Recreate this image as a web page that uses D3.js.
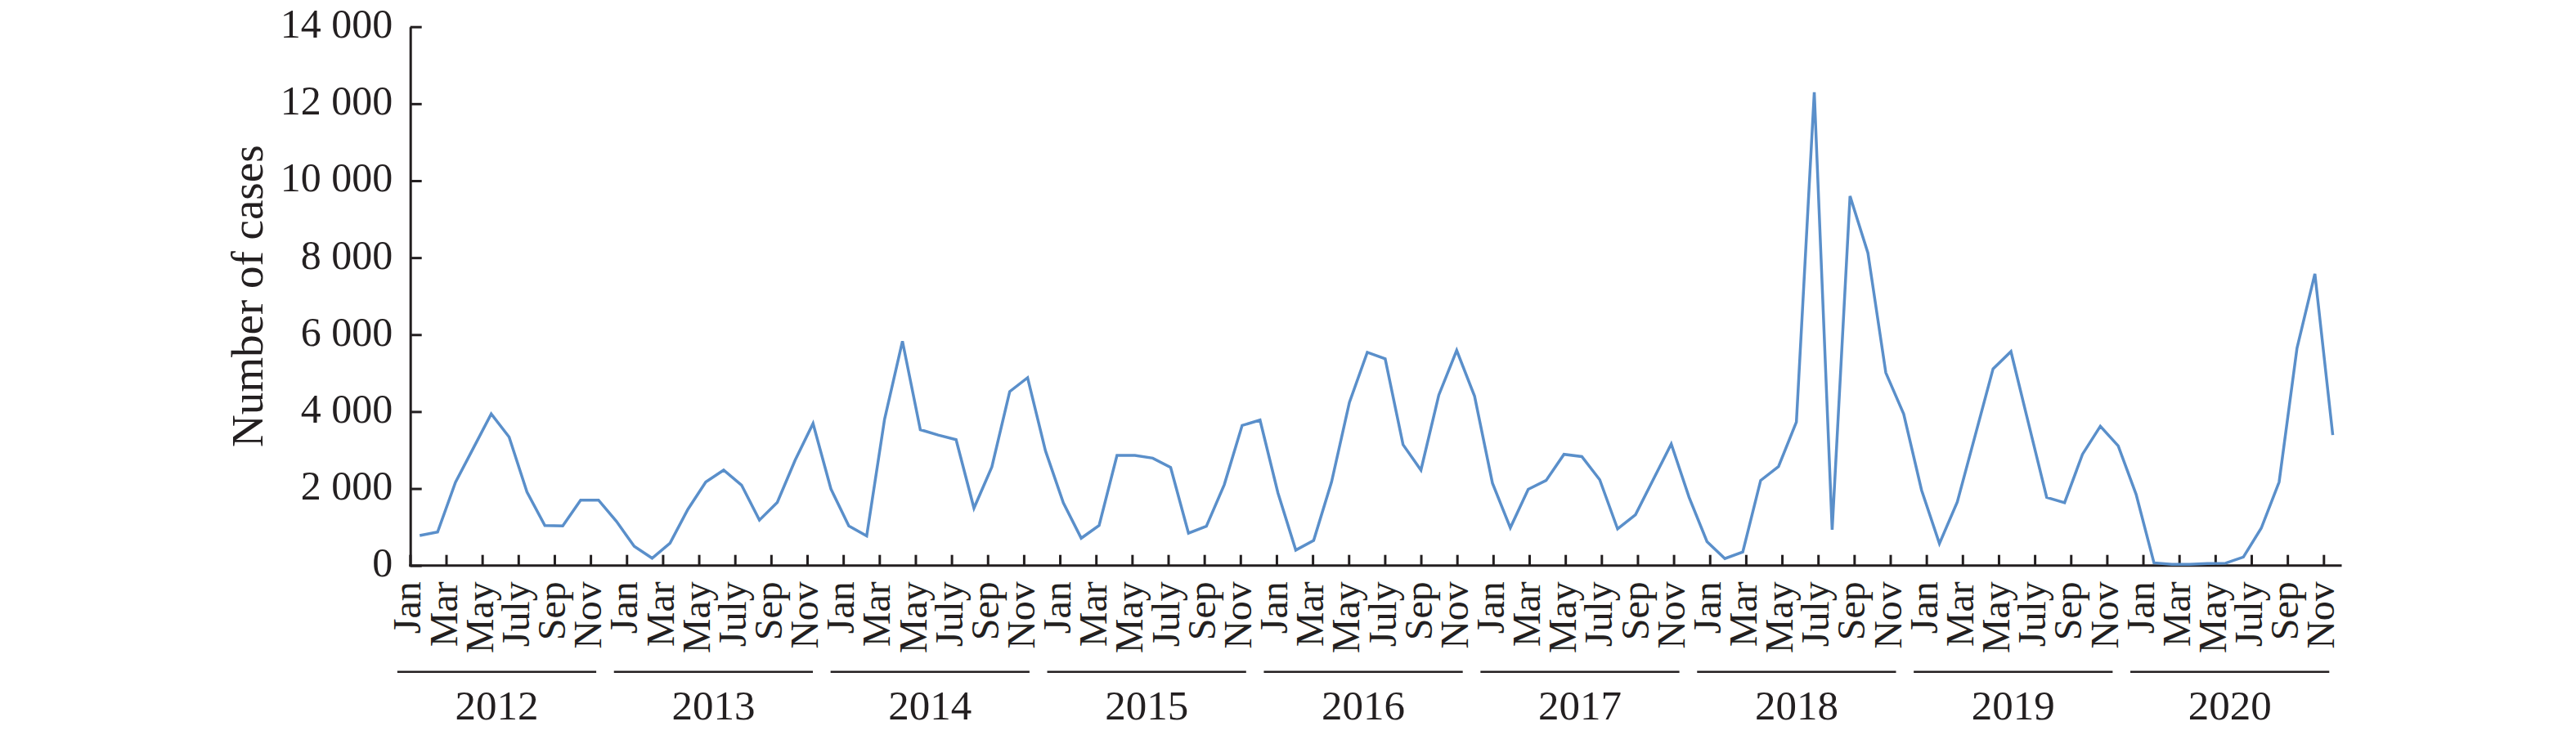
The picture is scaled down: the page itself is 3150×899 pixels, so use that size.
<!DOCTYPE html>
<html>
<head>
<meta charset="utf-8">
<script src="https://cdn.jsdelivr.net/npm/d3@7"></script>
<style>
html, body { margin: 0; padding: 0; background: #ffffff; }
svg { display: block; }
</style>
</head>
<body>
<svg id="chart" width="3150" height="899"></svg>
<script>
// ---------------- data ----------------
const years = [2012, 2013, 2014, 2015, 2016, 2017, 2018, 2019, 2020];
const monthNames = ["Jan","Feb","Mar","Apr","May","Jun","Jul","Aug","Sep","Oct","Nov","Dec"];
const axisMonthLabels = ["Jan", "Mar", "May", "July", "Sep", "Nov"];
const yTickValues = [0, 2000, 4000, 6000, 8000, 10000, 12000, 14000];
const yTitle = "Number of cases";

const cases2012 = [780, 870, 2160, 3050, 3940, 3340, 1910, 1040, 1030, 1700, 1700, 1150];
const cases2013 = [500, 190, 580, 1460, 2170, 2480, 2090, 1180, 1640, 2740, 3690, 1990];
const cases2014 = [1030, 770, 3800, 5830, 3530, 3390, 3270, 1490, 2560, 4520, 4880, 2980];
const cases2015 = [1630, 710, 1040, 2860, 2860, 2790, 2550, 840, 1020, 2100, 3640, 3780];
const cases2016 = [1890, 400, 650, 2170, 4240, 5540, 5370, 3140, 2480, 4430, 5590, 4400];
const cases2017 = [2140, 980, 1980, 2210, 2890, 2830, 2230, 950, 1320, 2240, 3160, 1770];
const cases2018 = [620, 180, 350, 2210, 2570, 3730, 12300, 930, 9600, 8120, 5010, 3940];
const cases2019 = [1960, 570, 1650, 3380, 5110, 5560, 3660, 1770, 1630, 2890, 3620, 3110];
const cases2020 = [1850, 70, 30, 30, 50, 60, 220, 970, 2170, 5650, 7580, 3390];

const casesByYear = [cases2012, cases2013, cases2014, cases2015, cases2016,
                     cases2017, cases2018, cases2019, cases2020];

// ---------------- layout / style ----------------
const FONT = "'Liberation Serif', 'Times New Roman', Times, serif";
const INK = "#231f20";
const LINE = "#5a8fca";

const plotLeft = 501.7, plotRight = 2863.5, plotTop = 32.7, plotBottom = 691.7;
const labelStep = 44.15;

const data = years.flatMap((yr, yi) =>
  casesByYear[yi].map((v, mi) => ({ key: yr + "-" + monthNames[mi], value: v })));

const labelKeys = years.flatMap(yr => axisMonthLabels.map(m => yr + "-" + m));

const svg = d3.select("#chart");

const x = d3.scaleBand()
  .domain(data.map(d => d.key))
  .range([plotLeft + 0.6, plotRight])
  .padding(0);

const xLab = d3.scalePoint()
  .domain(labelKeys)
  .range([plotLeft - 0.35, plotLeft - 0.35 + (labelKeys.length - 1) * labelStep]);

const y = d3.scaleLinear().domain([0, 14000]).range([plotBottom, plotTop]);

const fmt = d3.formatLocale({ decimal: ".", thousands: " ", grouping: [3], currency: ["", ""] }).format(",d");

// ---------------- y axis ----------------
const gy = svg.append("g")
  .attr("transform", `translate(${plotLeft},0)`)
  .call(d3.axisLeft(y).tickValues(yTickValues).tickFormat(fmt)
        .tickSizeInner(-14).tickSizeOuter(0).tickPadding(21.5));
gy.select(".domain").attr("stroke", INK).attr("stroke-width", 3);
gy.selectAll(".tick line").attr("stroke", INK).attr("stroke-width", 3);
gy.selectAll(".tick text")
  .attr("dy", "0.26em")
  .attr("fill", INK)
  .style("font-family", FONT)
  .style("font-size", "50px");

// ---------------- x axis ----------------
const gx = svg.append("g")
  .attr("transform", `translate(0,${plotBottom})`)
  .call(d3.axisBottom(xLab).tickSizeInner(-13).tickSizeOuter(0)
        .tickFormat(k => k.split("-")[1]));
gx.select(".domain").remove();
gx.selectAll(".tick line").attr("stroke", INK).attr("stroke-width", 3);
gx.selectAll(".tick text")
  .attr("transform", "rotate(-90)")
  .attr("text-anchor", "end")
  .attr("x", -19.5)
  .attr("y", 12.6)
  .attr("dy", null)
  .attr("fill", INK)
  .style("font-family", FONT)
  .style("font-size", "48px");

svg.append("line")
  .attr("x1", plotLeft - 1.5).attr("x2", x.range()[1])
  .attr("y1", plotBottom).attr("y2", plotBottom)
  .attr("stroke", INK).attr("stroke-width", 3);

// ---------------- year groups ----------------
const yearG = svg.append("g");
years.forEach(yr => {
  const x1 = xLab(yr + "-" + axisMonthLabels[0]) - 15.5;
  const x2 = xLab(yr + "-" + axisMonthLabels[axisMonthLabels.length - 1]) + 7;
  yearG.append("line")
    .attr("x1", x1).attr("x2", x2)
    .attr("y1", 821.7).attr("y2", 821.7)
    .attr("stroke", INK).attr("stroke-width", 2.5);
  yearG.append("text")
    .attr("x", (x1 + x2) / 2).attr("y", 880)
    .attr("text-anchor", "middle")
    .attr("fill", INK)
    .style("font-family", FONT)
    .style("font-size", "51px")
    .text(yr);
});

// ---------------- y title ----------------
svg.append("text")
  .attr("transform", `translate(321,${(plotTop + plotBottom) / 2}) rotate(-90)`)
  .attr("text-anchor", "middle")
  .attr("fill", INK)
  .style("font-family", FONT)
  .style("font-size", "55px")
  .text(yTitle);

// ---------------- line ----------------
svg.append("path")
  .datum(data)
  .attr("fill", "none")
  .attr("stroke", LINE)
  .attr("stroke-width", 3.5)
  .attr("d", d3.line()
    .x(d => x(d.key) + x.bandwidth() / 2)
    .y(d => y(d.value)));
</script>
</body>
</html>
